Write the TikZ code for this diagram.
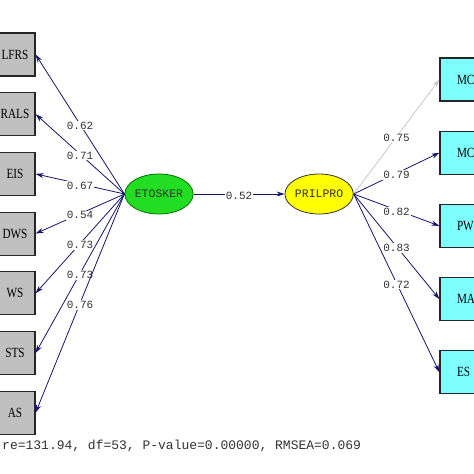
\documentclass[tikz,border=0pt]{standalone}
\usepackage{fontspec}
\usepackage{xcolor}
\usepackage{tikz}
\usetikzlibrary{shapes, arrows.meta, positioning}
\newfontfamily\boxfont[FakeStretch=0.8]{Liberation Serif}
\newfontfamily\lblfont{Liberation Mono}
\definecolor{pathblue}{RGB}{20,20,110}
\definecolor{pathgray}{RGB}{200,200,200}
\definecolor{obsgray}{RGB}{192,192,192}
\definecolor{obscyan}{RGB}{128,255,255}
\definecolor{latgreen}{RGB}{34,221,34}
\definecolor{latyellow}{RGB}{255,255,0}
\definecolor{txtgray}{RGB}{50,50,50}

\begin{document}
\begin{tikzpicture}[x=1pt, y=-1pt,
        obsl/.style={rectangle, draw=black!85, line width=1.2pt, fill=obsgray,
            minimum width=40pt, minimum height=43pt, inner sep=0pt,
            font={\boxfont\fontsize{14}{16}\selectfont}},
        obsr/.style={rectangle, draw=black!85, line width=1.2pt, fill=obscyan,
            text width=40pt, align=left, inner xsep=17pt, minimum height=43pt,
            font={\boxfont\fontsize{14}{16}\selectfont}},
        latent/.style={ellipse, draw, line width=0.8pt, minimum width=66pt,
            minimum height=40pt, inner sep=0pt,
            font={\lblfont\fontsize{11.5}{13}\selectfont}, text=txtgray},
        coef/.style={fill=white, inner sep=1pt, yshift=-1.5pt, text=txtgray,
            font={\lblfont\fontsize{11}{12}\selectfont}},
        path/.style={draw=pathblue, line width=0.8pt, -{Stealth[length=8pt,width=5pt]}},
        weak/.style={draw=pathgray, line width=0.8pt, -{Stealth[length=8pt,width=5pt]}}]
        \useasboundingbox (0,0) rectangle (474,474);

        \node (etosker) [latent, fill=latgreen, draw=green!45!black] at (159,194) {ETOSKER};
        \node (prilpro) [latent, fill=latyellow, draw=black!80, right=91pt of etosker] {PRILPRO};

        \node (x1) [obsl] at (15,54.5) {LFRS};
        \node (x2) [obsl, below=15.5pt of x1] {RALS};
        \node (x3) [obsl, below=15.5pt of x2] {EIS};
        \node (x4) [obsl, below=15.5pt of x3] {DWS};
        \node (x5) [obsl, below=15.5pt of x4] {WS};
        \node (x6) [obsl, below=15.5pt of x5] {STS};
        \node (x7) [obsl, below=15.5pt of x6] {AS};

        \node (y1) [obsr] at (477,79.5) {MC};
        \node (y2) [obsr, below=29pt of y1] {MC};
        \node (y3) [obsr, below=29pt of y2] {PW};
        \node (y4) [obsr, below=29pt of y3] {MA};
        \node (y5) [obsr, below=29pt of y4] {ES};

        \draw[path] (etosker.west) -- node[coef] {0.62} (x1.east);
        \draw[path] (etosker.west) -- node[coef] {0.71} (x2.east);
        \draw[path] (etosker.west) -- node[coef] {0.67} (x3.east);
        \draw[path] (etosker.west) -- node[coef] {0.54} (x4.east);
        \draw[path] (etosker.west) -- node[coef] {0.73} (x5.east);
        \draw[path] (etosker.west) -- node[coef] {0.73} (x6.east);
        \draw[path] (etosker.west) -- node[coef] {0.76} (x7.east);

        \draw[path] (etosker) -- node[coef] {0.52} (prilpro);

        \draw[weak] (prilpro.east) -- node[coef] {0.75} (y1.west);
        \draw[path] (prilpro.east) -- node[coef] {0.79} (y2.west);
        \draw[path] (prilpro.east) -- node[coef] {0.82} (y3.west);
        \draw[path] (prilpro.east) -- node[coef] {0.83} (y4.west);
        \draw[path] (prilpro.east) -- node[coef] {0.72} (y5.west);

        \node (fit) [anchor=west, inner sep=0pt, text=txtgray,
            font={\lblfont\fontsize{13}{15}\selectfont}] at (2,446)
            {re=131.94, df=53, P-value=0.00000, RMSEA=0.069};
    \end{tikzpicture}
\end{document}
